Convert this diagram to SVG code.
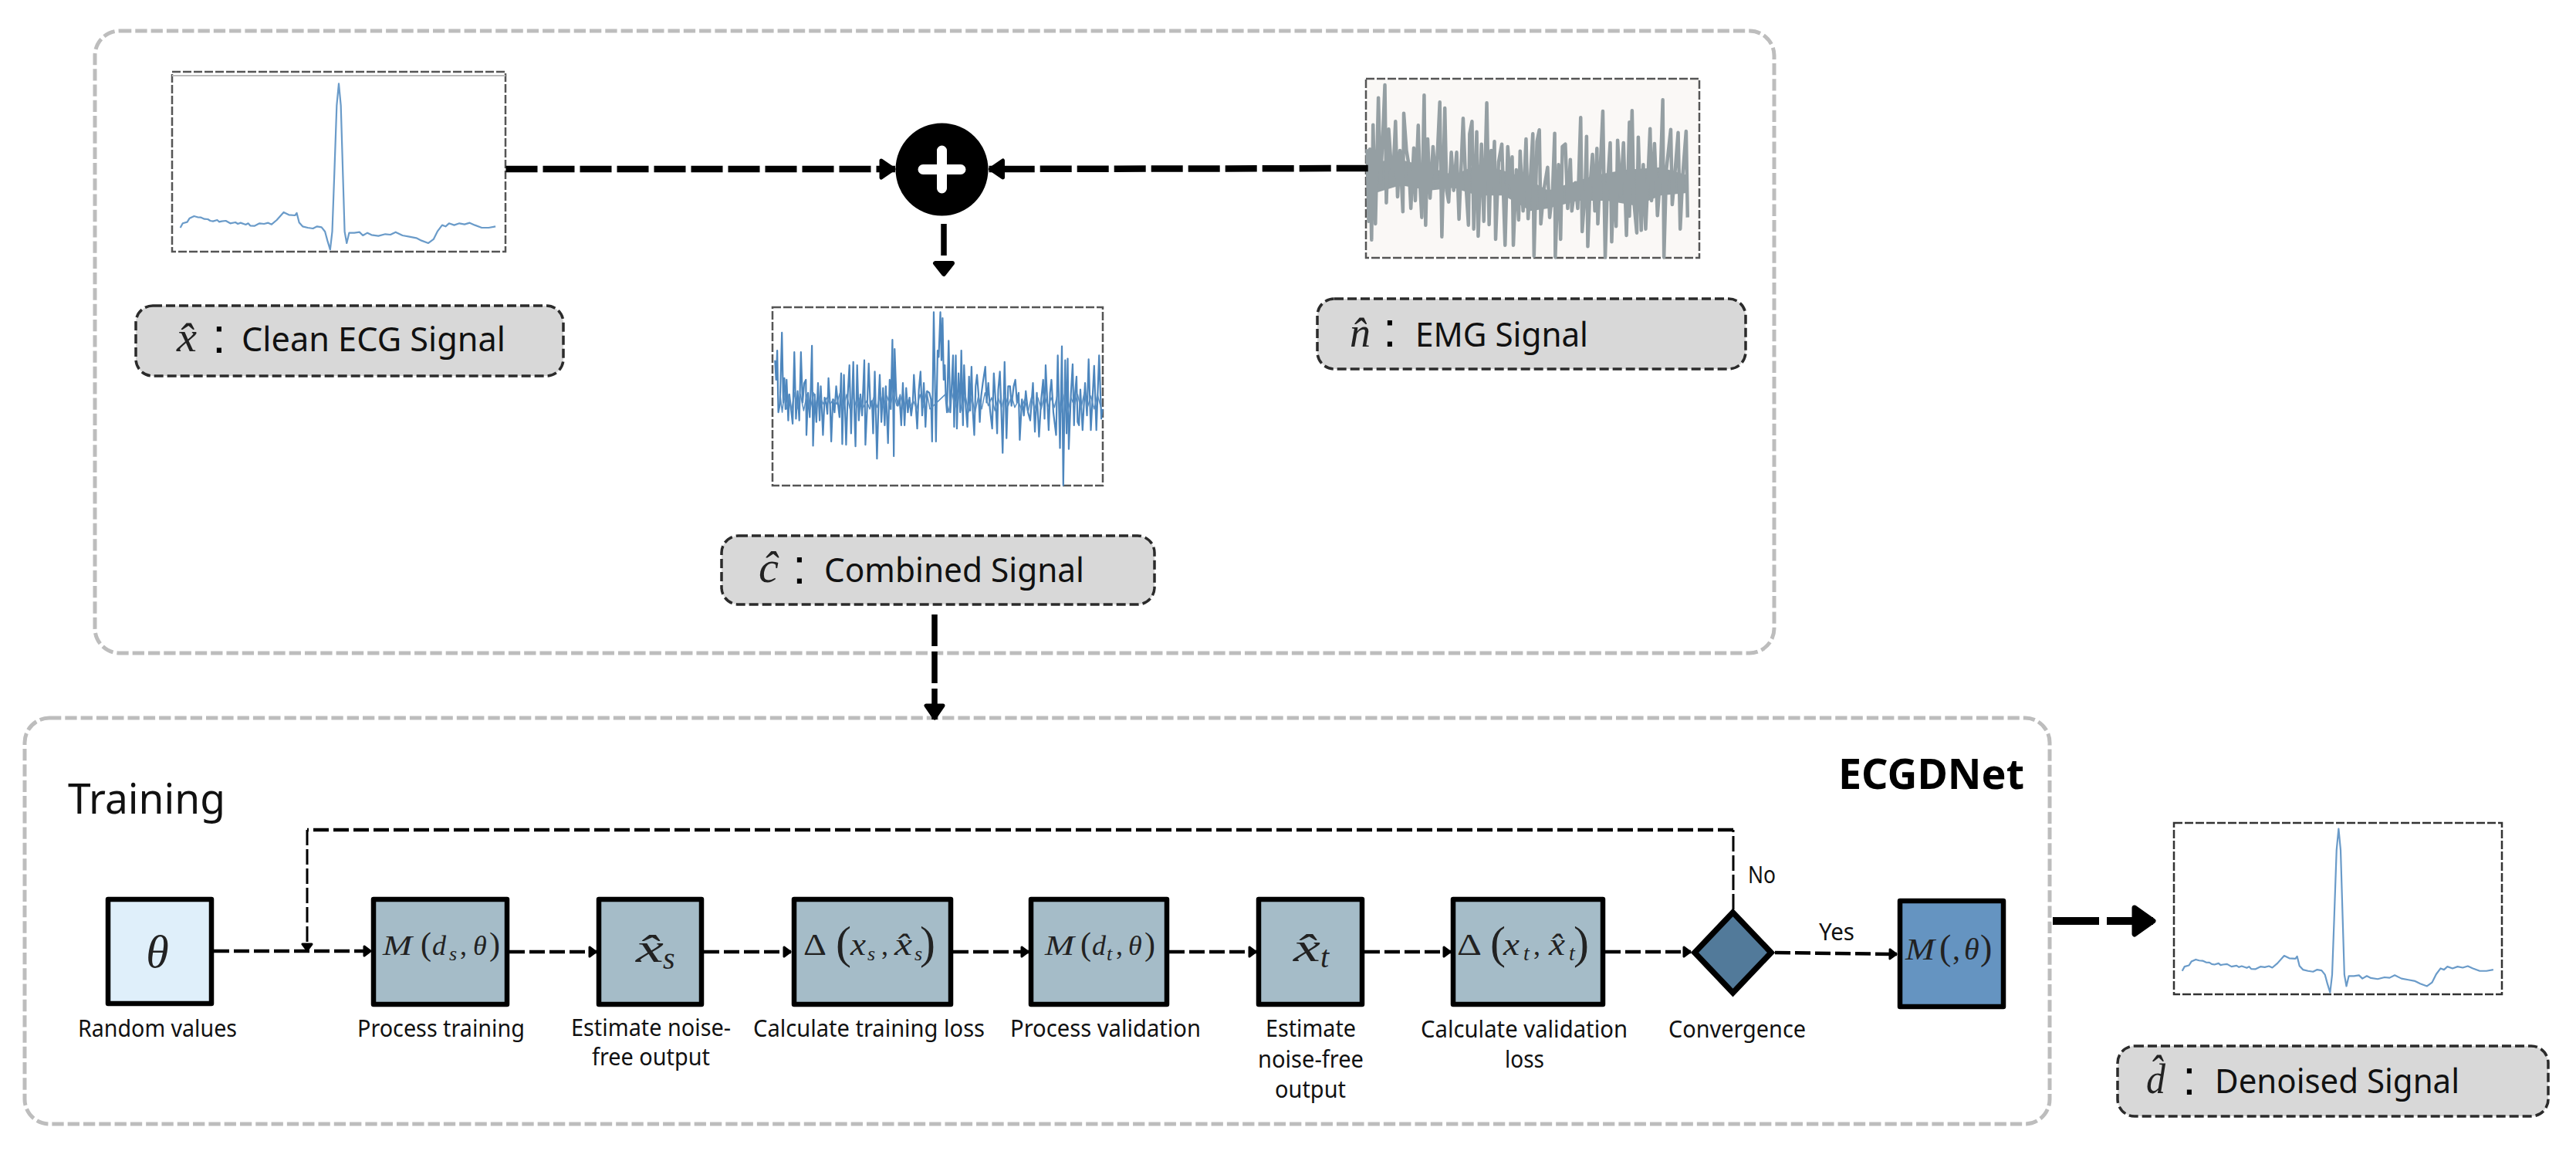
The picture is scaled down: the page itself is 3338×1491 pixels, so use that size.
<svg xmlns="http://www.w3.org/2000/svg" xmlns:xlink="http://www.w3.org/1999/xlink" width="3338" height="1491" viewBox="0 0 3338 1491">
<style>
text{font-family:"Noto Sans","Liberation Sans",sans-serif;fill:#111}
.cap{font-size:31px}
.pill{font-size:44px}
.m{font-family:"Liberation Serif","DejaVu Serif",serif;font-style:italic;fill:#222}
.u{font-family:"Liberation Serif","DejaVu Serif",serif;font-style:normal;fill:#222}
.colon{font-family:"Liberation Sans",sans-serif;font-size:64px;text-anchor:middle;fill:#000}
.container{fill:none;stroke:#bdbdbd;stroke-width:5;stroke-dasharray:15.300 5}
.plot{fill:#fff;stroke:#555;stroke-width:2.500;stroke-dasharray:11 3}
.lab{fill:#d8d8d8;stroke:#2b2b2b;stroke-width:3.500;stroke-dasharray:12 5}
.box{stroke:#000;stroke-width:6.500;stroke-linejoin:round}
.grey{fill:#a5bcc8}
.c8{fill:none;stroke:#000;stroke-width:8.500;stroke-dasharray:41 7}
.c4{fill:none;stroke:#000;stroke-width:4.500;stroke-dasharray:20 6}
.c3{fill:none;stroke:#000;stroke-width:3;stroke-dasharray:20 5}
.trace{fill:none;stroke-linejoin:round;vector-effect:non-scaling-stroke}
</style>
<defs>
<marker id="head-m" markerUnits="userSpaceOnUse" markerWidth="22" markerHeight="28" refX="21" refY="14" orient="auto"><path d="M3 3L19 14L3 25Z" fill="#000" stroke="#000" stroke-width="5" stroke-linejoin="round"/></marker>
<marker id="head-s" markerUnits="userSpaceOnUse" markerWidth="12" markerHeight="16" refX="11" refY="8" orient="auto"><path d="M2 2L10 8L2 14Z" fill="#000" stroke="#000" stroke-width="3" stroke-linejoin="round"/></marker>
<marker id="head-l" markerUnits="userSpaceOnUse" markerWidth="32" markerHeight="42" refX="31" refY="21" orient="auto"><path d="M4 4L28 21L4 38Z" fill="#000" stroke="#000" stroke-width="7" stroke-linejoin="round"/></marker>
<polyline id="ecg" class="trace" stroke="#6a9bc9" stroke-width="2.200" points="165,705 172,688 185,683 192,668 205,660 215,664 225,665 235,671 245,672 252,678 260,680 272,675 278,682 285,680 297,678 310,688 325,684 332,690 340,686 355,693 362,688 368,697 380,698 395,688 408,690 420,686 430,692 445,675 465,645 480,655 498,657 503,648 510,685 520,700 535,705 550,708 562,700 575,703 585,720 592,755 600,790 606,720 612,500 619,230 625,145 631,230 637,500 642,720 648,765 655,725 670,725 685,722 695,735 708,725 720,733 740,737 760,730 775,732 790,722 810,735 830,740 850,745 865,755 885,765 900,750 912,718 925,695 935,700 945,688 960,695 975,688 990,692 1005,686 1020,695 1040,705 1060,705 1080,700"/>
</defs>
<rect width="3338" height="1491" fill="#fff"/>

<g id="containers">
<rect id="input-panel" class="container" x="123" y="40" width="2176" height="806" rx="32"/>
<rect id="ecgdnet-panel" class="container" x="32" y="930" width="2624" height="526" rx="32"/>
</g>

<g id="clean-ecg">
<rect class="plot" x="223" y="93" width="432" height="233"/>
<line x1="223" y1="98" x2="655" y2="98" stroke="#bbb" stroke-width="2"/>
<use xlink:href="#ecg" href="#ecg" transform="translate(160 60) scale(.4464 .3333)"/>
<rect class="lab" x="176" y="396" width="554" height="91" rx="22"/>
<text class="m" x="229" y="455" font-size="54" textLength="26" lengthAdjust="spacingAndGlyphs">x̂</text>
<text class="colon" x="284" y="457">:</text>
<text class="pill" x="313" y="455" textLength="342" lengthAdjust="spacingAndGlyphs">Clean ECG Signal</text>
</g>

<g id="emg">
<rect class="plot" x="1770" y="102" width="432" height="232" style="fill:#faf8f6"/>
<g transform="translate(1700 80) scale(.3827 .3333)">
<polygon fill="#959fa3" points="187,390 300,380 400,410 480,440 560,400 640,420 720,450 800,500 880,470 960,440 1060,420 1180,410 1270,440 1270,510 1180,520 1100,560 1000,540 900,540 800,570 740,580 650,520 560,520 480,490 400,500 300,480 187,520"/>
<polyline class="trace" stroke="#959fa3" stroke-width="4.500" points="187,340 192,620 196,340 202,692 207,245 215,630 225,140 232,470 240,290 247,90 252,548 260,262 268,400 275,440 283,232 290,525 298,345 308,583 311,200 320,345 328,400 335,570 345,335 350,540 360,247 366,480 372,605 380,130 385,635 392,300 400,530 410,330 420,480 433,157 440,680 450,180 456,500 463,545 472,352 480,500 490,352 498,612 512,220 520,450 530,635 534,280 542,232 548,650 558,272 563,678 574,320 582,620 592,160 600,633 607,345 612,480 618,310 622,690 632,390 643,320 654,713 663,330 672,480 678,370 682,713 692,420 700,615 705,347 715,580 725,300 732,610 748,280 752,755 762,310 770,265 775,630 785,500 798,410 805,605 815,500 822,278 824,760 835,400 842,690 848,330 858,320 866,570 875,380 880,580 892,470 900,570 910,217 915,660 925,500 930,290 934,718 942,480 950,360 958,580 965,337 968,630 985,192 993,760 1000,500 1010,315 1015,700 1022,450 1030,640 1035,305 1045,520 1055,315 1065,675 1075,235 1075,600 1084,190 1090,540 1100,665 1105,293 1115,655 1122,400 1130,650 1145,260 1150,540 1160,318 1170,598 1180,440 1188,148 1192,760 1200,420 1215,263 1220,555 1230,420 1240,275 1247,650 1255,450 1267,270 1272,605"/>
</g>
<rect class="lab" x="1707" y="387" width="555" height="91" rx="22"/>
<text class="m" x="1749" y="449" font-size="54" textLength="27" lengthAdjust="spacingAndGlyphs">n̂</text>
<text class="colon" x="1801" y="449">:</text>
<text class="pill" x="1834" y="449" textLength="224" lengthAdjust="spacingAndGlyphs">EMG Signal</text>
</g>

<g id="adder">
<circle cx="1220.500" cy="219.500" r="60" fill="#000"/>
<path d="M1196 219.500H1245M1220.500 195V244" stroke="#fff" stroke-width="13" stroke-linecap="round" fill="none"/>
</g>

<g id="combined">
<rect class="plot" x="1001" y="398" width="428" height="231"/>
<g transform="translate(950 130) scale(.3571 .4209)">
<polyline class="trace" stroke="#4d86bd" stroke-width="2.200" points="152,800 156,860 160,770 164,960 170,935 177,715 182,930 186,855 190,950 194,860 200,985 204,905 210,950 216,995 222,775 228,980 234,895 240,985 246,775 252,930 258,870 264,860 266,1030 272,900 278,975 282,880 286,755 290,1063 296,905 302,990 308,870 314,985 318,880 322,950 326,1030 332,915 338,935 342,965 346,855 352,940 356,1050 362,920 368,960 374,880 380,930 386,975 392,840 396,1058 402,845 410,1060 416,905 422,815 428,1025 436,805 440,960 444,1065 450,815 456,985 462,905 468,970 476,800 480,1060 486,950 492,810 498,940 504,925 508,1025 514,835 522,1103 528,920 532,845 538,990 544,885 550,1000 554,880 562,1055 568,860 572,950 578,737 583,1095 586,765 592,910 598,940 604,915 610,1000 616,870 622,1000 628,885 634,960 640,915 646,970 652,930 656,845 662,930 668,1010 674,890 680,835 686,970 692,870 698,1005 704,895 712,900 718,920 722,1050 728,652 736,1050 742,770 746,790 752,652 756,800 760,670 764,860 768,815 772,920 776,960 782,740 788,960 792,900 798,785 802,1005 808,785 812,1010 818,840 824,960 828,770 834,1000 838,815 844,940 850,1005 856,850 860,955 865,820 870,960 875,1030 880,880 885,845 890,900 895,990 900,910 906,870 915,820 920,930 926,870 932,950 940,1010 946,840 952,920 958,1025 962,890 968,835 973,950 978,1085 985,805 992,1040 998,880 1005,880 1010,940 1018,880 1024,860 1030,930 1036,900 1040,1045 1048,920 1055,970 1062,895 1070,960 1078,985 1088,870 1095,1020 1102,900 1110,1035 1118,920 1125,860 1130,980 1134,815 1145,1015 1150,900 1155,860 1162,960 1172,1030 1178,785 1186,1070 1193,757 1198,1185 1205,800 1210,1025 1214,795 1218,1073 1226,900 1232,812 1237,1000 1241,900 1246,850 1250,990 1255,1000 1260,890 1268,1015 1277,870 1284,970 1290,797 1298,1015 1304,920 1310,817 1318,1015 1328,785 1336,980 1340,950"/>
<polyline class="trace" stroke="#5a8fc2" stroke-width="1.500" points="170,900 178,960 186,900 194,950 202,905 212,955 222,900 232,950 244,905 256,955 268,905 280,950 292,900 304,945 316,915 328,935 340,915 352,935 364,920 376,935 388,900 400,950 412,905 424,950 436,910 448,945 460,915 472,945 484,925 496,950 510,915 522,945 534,905 546,945 558,910 570,940 582,900 594,940 606,905 618,950 630,915 642,945 654,925 666,950 678,905 690,945 702,895 714,950 770,905 782,960 794,900 806,945 818,900 830,955 842,905 854,960 866,915 878,960 890,910 902,950 914,900 926,940 938,915 950,955 962,915 974,945 986,905 998,940 1010,910 1022,945 1034,925 1046,950 1058,920 1070,960 1082,915 1094,950 1106,915 1118,950 1130,905 1142,945 1154,915 1166,945 1178,900 1190,960 1202,905 1214,960 1226,915 1238,940 1250,905 1262,950 1274,900 1286,945 1298,910 1310,950 1322,905 1336,950"/>
</g>
<rect class="lab" x="935" y="694" width="561" height="89" rx="22"/>
<text class="m" x="983" y="754" font-size="58" textLength="26" lengthAdjust="spacingAndGlyphs">ĉ</text>
<text class="colon" x="1036" y="756">:</text>
<text class="pill" x="1068" y="754" textLength="337" lengthAdjust="spacingAndGlyphs">Combined Signal</text>
</g>

<g id="connectors">
<path class="c8" d="M655.500 219H1160" marker-end="url(#head-m)"/>
<path class="c8" d="M1772.700 218L1281.500 219" marker-end="url(#head-m)"/>
<path class="c8" style="stroke-dasharray:none;stroke-width:7.500" d="M1223 290V331"/>
<path d="M1212 341H1234L1223 355Z" fill="#000" stroke="#000" stroke-width="6" stroke-linejoin="round"/>
<path class="c8" d="M1211 796V932" style="stroke-width:7.500;stroke-dasharray:41 7" marker-end="url(#head-m)"/>
<path class="c4" d="M277 1232H481" marker-end="url(#head-s)"/>
<path class="c4" d="M660 1233H773" marker-end="url(#head-s)"/>
<path class="c4" d="M912 1233H1025" marker-end="url(#head-s)"/>
<path class="c4" d="M1235 1233H1333" marker-end="url(#head-s)"/>
<path class="c4" d="M1515 1233H1628" marker-end="url(#head-s)"/>
<path class="c4" d="M1768 1233H1880" marker-end="url(#head-s)"/>
<path class="c4" d="M2080 1233H2191" marker-end="url(#head-s)"/>
<path class="c4" d="M2300 1234L2458 1236" marker-end="url(#head-s)"/>
<path class="c4" d="M2246 1075H398"/>
<path class="c3" d="M2246 1178V1075"/>
<path class="c3" d="M398 1075V1232" marker-end="url(#head-s)"/>
<path class="c8" d="M2660 1193H2793" style="stroke-width:10;stroke-dasharray:60 10" marker-end="url(#head-l)"/>
</g>

<g id="title-training"><text x="88" y="1054" font-size="55" textLength="204" lengthAdjust="spacingAndGlyphs">Training</text></g>
<g id="title-ecgdnet"><text x="2382" y="1022" font-size="54" font-weight="700" textLength="241" lengthAdjust="spacingAndGlyphs" style="fill:#000">ECGDNet</text></g>

<g id="random-values">
<rect class="box" x="140" y="1165" width="134" height="135" fill="#dfeffa"/>
<text class="m" x="204" y="1253" font-size="60" text-anchor="middle">θ</text>
<text class="cap" x="101" y="1343" textLength="206" lengthAdjust="spacingAndGlyphs">Random values</text>
</g>
<g id="process-training">
<rect class="box grey" x="484" y="1165" width="173" height="136"/>
<text class="m" x="496" y="1237" font-size="36" textLength="38" lengthAdjust="spacingAndGlyphs">M</text>
<text class="u" x="545" y="1237" font-size="42">(</text>
<text class="m" x="560" y="1237" font-size="36">d</text>
<text class="m" x="582" y="1244" font-size="26">s</text>
<text class="u" x="596" y="1237" font-size="36">,</text>
<text class="m" x="613" y="1237" font-size="36">θ</text>
<text class="u" x="634" y="1237" font-size="42">)</text>
<text class="cap" x="463" y="1343" textLength="217" lengthAdjust="spacingAndGlyphs">Process training</text>
</g>
<g id="estimate-s">
<rect class="box grey" x="776" y="1165" width="133" height="136"/>
<text class="m" x="824" y="1246" font-size="52" textLength="36" lengthAdjust="spacingAndGlyphs">x̂</text>
<text class="m" x="859" y="1255" font-size="40">s</text>
<text class="cap" x="740" y="1342" textLength="207" lengthAdjust="spacingAndGlyphs">Estimate noise-</text>
<text class="cap" x="767" y="1380" textLength="153" lengthAdjust="spacingAndGlyphs">free output</text>
</g>
<g id="training-loss">
<rect class="box grey" x="1029" y="1165" width="203" height="136"/>
<text class="u" x="1041" y="1237" font-size="40" textLength="30" lengthAdjust="spacingAndGlyphs">Δ</text>
<text class="u" x="1083" y="1241" font-size="60">(</text>
<text class="m" x="1102" y="1237" font-size="42" textLength="20" lengthAdjust="spacingAndGlyphs">x</text>
<text class="m" x="1124" y="1244" font-size="26">s</text>
<text class="u" x="1142" y="1237" font-size="36">,</text>
<text class="m" x="1159" y="1237" font-size="42" textLength="23" lengthAdjust="spacingAndGlyphs">x̂</text>
<text class="m" x="1185" y="1244" font-size="26">s</text>
<text class="u" x="1192" y="1241" font-size="60">)</text>
<text class="cap" x="976" y="1343" textLength="300" lengthAdjust="spacingAndGlyphs">Calculate training loss</text>
</g>
<g id="process-validation">
<rect class="box grey" x="1336" y="1165" width="176" height="136"/>
<text class="m" x="1354" y="1237" font-size="36" textLength="38" lengthAdjust="spacingAndGlyphs">M</text>
<text class="u" x="1400" y="1237" font-size="42">(</text>
<text class="m" x="1415" y="1237" font-size="36">d</text>
<text class="m" x="1434" y="1244" font-size="26">t</text>
<text class="u" x="1446" y="1237" font-size="36">,</text>
<text class="m" x="1462" y="1237" font-size="36">θ</text>
<text class="u" x="1483" y="1237" font-size="42">)</text>
<text class="cap" x="1309" y="1343" textLength="247" lengthAdjust="spacingAndGlyphs">Process validation</text>
</g>
<g id="estimate-t">
<rect class="box grey" x="1631" y="1165" width="134" height="136"/>
<text class="m" x="1676" y="1245" font-size="52" textLength="35" lengthAdjust="spacingAndGlyphs">x̂</text>
<text class="m" x="1711" y="1253" font-size="40">t</text>
<text class="cap" x="1640" y="1343" textLength="117" lengthAdjust="spacingAndGlyphs">Estimate</text>
<text class="cap" x="1630" y="1383" textLength="137" lengthAdjust="spacingAndGlyphs">noise-free</text>
<text class="cap" x="1652" y="1422" textLength="92" lengthAdjust="spacingAndGlyphs">output</text>
</g>
<g id="validation-loss">
<rect class="box grey" x="1883" y="1165" width="194" height="136"/>
<text class="u" x="1888" y="1237" font-size="40" textLength="32" lengthAdjust="spacingAndGlyphs">Δ</text>
<text class="u" x="1931" y="1241" font-size="60">(</text>
<text class="m" x="1948" y="1237" font-size="42" textLength="21" lengthAdjust="spacingAndGlyphs">x</text>
<text class="m" x="1974" y="1244" font-size="28">t</text>
<text class="u" x="1987" y="1237" font-size="36">,</text>
<text class="m" x="2007" y="1237" font-size="42" textLength="21" lengthAdjust="spacingAndGlyphs">x̂</text>
<text class="m" x="2033" y="1244" font-size="28">t</text>
<text class="u" x="2039" y="1241" font-size="60">)</text>
<text class="cap" x="1841" y="1344" textLength="268" lengthAdjust="spacingAndGlyphs">Calculate validation</text>
<text class="cap" x="1950" y="1383" textLength="51" lengthAdjust="spacingAndGlyphs">loss</text>
</g>
<g id="convergence">
<polygon points="2245.500,1182 2295,1234 2245.500,1286 2196,1234" fill="#527a9a" stroke="#000" stroke-width="7.500" stroke-linejoin="miter"/>
<text class="cap" x="2162" y="1344" textLength="178" lengthAdjust="spacingAndGlyphs">Convergence</text>
<text class="cap" x="2265" y="1144" textLength="36" lengthAdjust="spacingAndGlyphs">No</text>
<text class="cap" x="2357" y="1218" textLength="46" lengthAdjust="spacingAndGlyphs">Yes</text>
</g>
<g id="final-model">
<rect class="box" x="2462" y="1167" width="134" height="137" fill="#6594c1"/>
<text class="m" x="2469" y="1243" font-size="40" textLength="38" lengthAdjust="spacingAndGlyphs">M</text>
<text class="u" x="2513" y="1243" font-size="46">(</text>
<text class="u" x="2530" y="1243" font-size="40">,</text>
<text class="m" x="2545" y="1243" font-size="40">θ</text>
<text class="u" x="2566" y="1243" font-size="46">)</text>
</g>

<g id="denoised">
<rect class="plot" x="2817" y="1066" width="425" height="222" style="stroke:#333"/>
<use xlink:href="#ecg" href="#ecg" transform="translate(2755 1025.800) scale(.4406 .329)"/>
<rect class="lab" x="2744" y="1355" width="558" height="91" rx="22"/>
<text class="m" x="2781" y="1416" font-size="54" textLength="25" lengthAdjust="spacingAndGlyphs">d̂</text>
<text class="colon" x="2837" y="1418">:</text>
<text class="pill" x="2870" y="1416" textLength="317" lengthAdjust="spacingAndGlyphs">Denoised Signal</text>
</g>
</svg>
